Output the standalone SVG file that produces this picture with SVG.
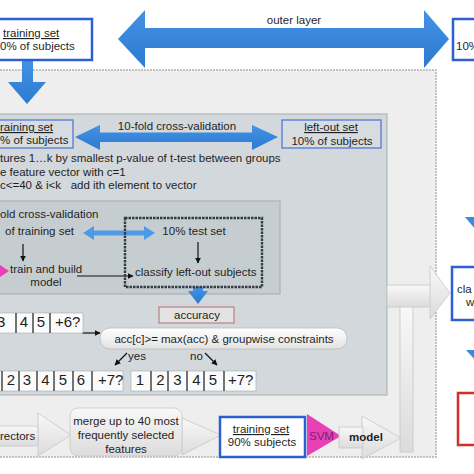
<svg xmlns="http://www.w3.org/2000/svg" width="474" height="474" viewBox="0 0 474 474">
<defs>
<style>
text{font-family:"Liberation Sans",Arial,sans-serif;font-size:11.5px;fill:#1f1f1f}
.u{text-decoration:underline}
.num{font-size:15px}
.mid{text-anchor:middle}
.pre{white-space:pre}
.bluebox{fill:#fff;stroke:#2c5fd1;stroke-width:2.5}
.thinblue{fill:#d6dce0;stroke:#5c80d4;stroke-width:1.4}
.cell{fill:#fbfbfb;stroke:#a3a9ac;stroke-width:0.6}
.div{stroke:#2a2a2a;stroke-width:1.3}
.blk{stroke:#111;stroke-width:1.2;fill:none;marker-end:url(#ah)}
.gray{fill:url(#g3d);stroke:#c6c6c6;stroke-width:0.8}
.blue{fill:url(#gblue)}
</style>
<marker id="ah" viewBox="0 0 10 10" refX="9" refY="5" markerWidth="5" markerHeight="5" orient="auto"><path d="M0,0 L10,5 L0,10 z" fill="#111"/></marker>
<linearGradient id="gblue" x1="0" y1="0" x2="0" y2="1"><stop offset="0" stop-color="#4292e4"/><stop offset="1" stop-color="#2c7ad2"/></linearGradient>
<linearGradient id="g3d" x1="0" y1="0" x2="0" y2="1"><stop offset="0" stop-color="#f8f8f8"/><stop offset="1" stop-color="#dcdcdc"/></linearGradient>
<linearGradient id="gpill" x1="0" y1="0" x2="0" y2="1"><stop offset="0" stop-color="#ffffff"/><stop offset="1" stop-color="#e2e2e2"/></linearGradient>
</defs>
<rect width="474" height="474" fill="#fff"/>

<g id="outer-panel"><rect x="-3" y="70" width="439" height="387" fill="#eeeeee" stroke="#b2b2b2" stroke-width="1.5" stroke-dasharray="2 1"/></g>
<g id="middle-panel"><rect x="-3" y="114" width="390" height="281" fill="#d2d8db" stroke="#b0b7b9" stroke-width="1.2"/></g>
<g id="inner-panel"><rect x="-3" y="201" width="283" height="93" fill="#c6cdd0" stroke="#aab2b5" stroke-width="1.2"/></g>

<g id="connectors">
<path class="blue" d="M118,39 L145,10 L145,28 L424,28 L424,10 L449,39 L424,68 L424,48 L145,48 L145,68 Z"/>
<path class="blue" d="M22,60 L33,60 L33,82 L46,82 L27,104 L8,82 L22,82 Z"/>
<path class="blue" d="M75,137 L100,125 L100,132.5 L252,132.5 L252,125 L278,137 L252,150 L252,142 L100,142 L100,150 Z"/>
<path fill="#4d9be6" d="M83,233 L94,226 L94,230.5 L144,230.5 L144,226 L155,233 L144,240 L144,235.5 L94,235.5 L94,240 Z"/>
<path class="blue" d="M193,287 L203,287 L203,291 L208,291 L198,304 L188,291 L193,291 Z"/>
<line class="blk" x1="23" y1="244" x2="23" y2="261"/>
<line class="blk" x1="198" y1="242" x2="198" y2="263"/>
<line class="blk" x1="77" y1="276" x2="133" y2="276"/>
<line class="blk" x1="82" y1="333" x2="100" y2="333"/>
<line class="blk" x1="127" y1="353" x2="115" y2="365" stroke-width="1.5"/>
<line class="blk" x1="205" y1="353" x2="217" y2="365" stroke-width="1.5"/>
<polygon fill="#e940b6" points="0,265 9,271 0,277"/>
<polygon class="gray" points="38,413 71,435 38,456"/>
<polygon class="gray" points="182,418 221,435 182,455"/>
<rect class="gray" x="400" y="305" width="13" height="147"/>
<rect class="gray" x="387" y="285" width="44" height="22"/>
<polygon class="gray" points="430,266 450,293 430,319"/>
<polygon class="gray" points="362,416 401,438 362,459"/>
<polygon fill="#3a8be0" points="465,217 488,217 476,230"/>
<polygon fill="#3a8be0" points="466,350 489,350 477,362"/>
</g>

<g id="top-training">
<rect class="bluebox" x="-3" y="19" width="95" height="41"/>
<text class="u" x="3" y="37">training set</text>
<text x="0" y="50">0% of subjects</text>
</g>
<g id="outer-label"><text class="mid" x="294" y="24">outer layer</text></g>
<g id="top-leftout">
<rect class="bluebox" x="453" y="19" width="30" height="41"/>
<text x="456" y="50">10%</text>
</g>

<g id="mid-training">
<rect class="thinblue" x="-3" y="120" width="76" height="28"/>
<text class="u" x="0" y="131">raining set</text>
<text x="0" y="144">% of subjects</text>
</g>
<g id="cv-label"><text class="mid" x="177" y="130">10-fold cross-validation</text></g>
<g id="mid-leftout">
<rect class="thinblue" x="282" y="120" width="99" height="28"/>
<text class="mid u" x="331" y="131">left-out set</text>
<text class="mid" x="332" y="145">10% of subjects</text>
</g>
<g id="steps">
<text x="0" y="162">tures 1…k by smallest p-value of t-test between groups</text>
<text x="0" y="175.5">e feature vector with c=1</text>
<text class="pre" x="0" y="189">c&lt;=40 &amp; i&lt;k   add ith element to vector</text>
</g>

<g id="inner-cv">
<text x="0" y="218">old cross-validation</text>
<text x="5" y="235">of training set</text>
</g>
<g id="test-set">
<rect x="125" y="218" width="137" height="69" fill="none" stroke="#333c46" stroke-width="2.4" stroke-dasharray="2.5 1"/>
<text class="mid" x="194" y="235">10% test set</text>
<text x="135" y="276">classify left-out subjects</text>
</g>
<g id="train-build">
<text x="10" y="273">train and build</text>
<text class="mid" x="46" y="286">model</text>
</g>

<g id="accuracy">
<rect x="159" y="307" width="75" height="16" fill="#e3e3e3" stroke="#b76c6c" stroke-width="1"/>
<text class="mid" x="197" y="319">accuracy</text>
</g>

<g id="vector-row1">
<rect class="cell" x="-3" y="313" width="86" height="20"/>
<line class="div" x1="16" y1="313" x2="16" y2="333"/>
<line class="div" x1="33" y1="313" x2="33" y2="333"/>
<line class="div" x1="50" y1="313" x2="50" y2="333"/>
<text class="num" x="-3" y="327">3</text>
<text class="num mid" x="24" y="327">4</text>
<text class="num mid" x="41" y="327">5</text>
<text class="num" x="55" y="327">+6?</text>
</g>

<g id="condition">
<rect x="100" y="328" width="247" height="21" rx="10" fill="url(#gpill)" stroke="#bdbdbd" stroke-width="0.8"/>
<text class="mid" x="224" y="343">acc[c]&gt;= max(acc) &amp; groupwise constraints</text>
<text x="128" y="360">yes</text>
<text x="190" y="360">no</text>
</g>

<g id="vector-yes">
<rect class="cell" x="-3" y="371" width="126" height="20"/>
<line class="div" x1="2" y1="371" x2="2" y2="391"/>
<line class="div" x1="19" y1="371" x2="19" y2="391"/>
<line class="div" x1="37" y1="371" x2="37" y2="391"/>
<line class="div" x1="54" y1="371" x2="54" y2="391"/>
<line class="div" x1="73" y1="371" x2="73" y2="391"/>
<line class="div" x1="92" y1="371" x2="92" y2="391"/>
<text class="num mid" x="11" y="385">2</text>
<text class="num mid" x="27" y="385">3</text>
<text class="num mid" x="45.5" y="385">4</text>
<text class="num mid" x="63" y="385">5</text>
<text class="num mid" x="81" y="385">6</text>
<text class="num" x="98" y="385">+7?</text>
</g>
<g id="vector-no">
<rect class="cell" x="131" y="371" width="125" height="20"/>
<line class="div" x1="151" y1="371" x2="151" y2="391"/>
<line class="div" x1="168" y1="371" x2="168" y2="391"/>
<line class="div" x1="187" y1="371" x2="187" y2="391"/>
<line class="div" x1="204" y1="371" x2="204" y2="391"/>
<line class="div" x1="224" y1="371" x2="224" y2="391" stroke-width="2"/>
<text class="num mid" x="140" y="385">1</text>
<text class="num mid" x="160.5" y="385">2</text>
<text class="num mid" x="177.5" y="385">3</text>
<text class="num mid" x="196.5" y="385">4</text>
<text class="num mid" x="213" y="385">5</text>
<text class="num" x="228" y="385">+7?</text>
</g>

<g id="vectors">
<rect class="gray" x="-3" y="426" width="41" height="20" rx="3"/>
<text x="0" y="440">rectors</text>
</g>
<g id="merge">
<rect x="70" y="408" width="112" height="48" rx="8" fill="url(#g3d)" stroke="#c9c9c9" stroke-width="0.8"/>
<text class="mid" x="126" y="425">merge up to 40 most</text>
<text class="mid" x="126" y="439">frequently selected</text>
<text class="mid" x="126" y="453">features</text>
</g>
<g id="final-training">
<rect class="bluebox" x="220" y="417" width="85" height="40"/>
<text class="mid u" x="261" y="433">training set</text>
<text class="mid" x="262" y="446">90% subjects</text>
</g>
<g id="svm">
<polygon fill="#e940b6" points="307,414 341,436 307,456"/>
<text x="309" y="440" style="fill:#7a2070">SVM</text>
</g>
<g id="model">
<rect class="gray" x="339" y="427" width="24" height="21"/>
<text x="349" y="441" font-weight="bold">model</text>
</g>

<g id="classifier">
<rect class="bluebox" x="452" y="267" width="30" height="53"/>
<text x="457" y="293">cla</text>
<text x="466" y="306">w</text>
</g>
<g id="result"><rect x="458" y="393" width="30" height="52" fill="#fff" stroke="#d0302a" stroke-width="2.5"/></g>
</svg>
